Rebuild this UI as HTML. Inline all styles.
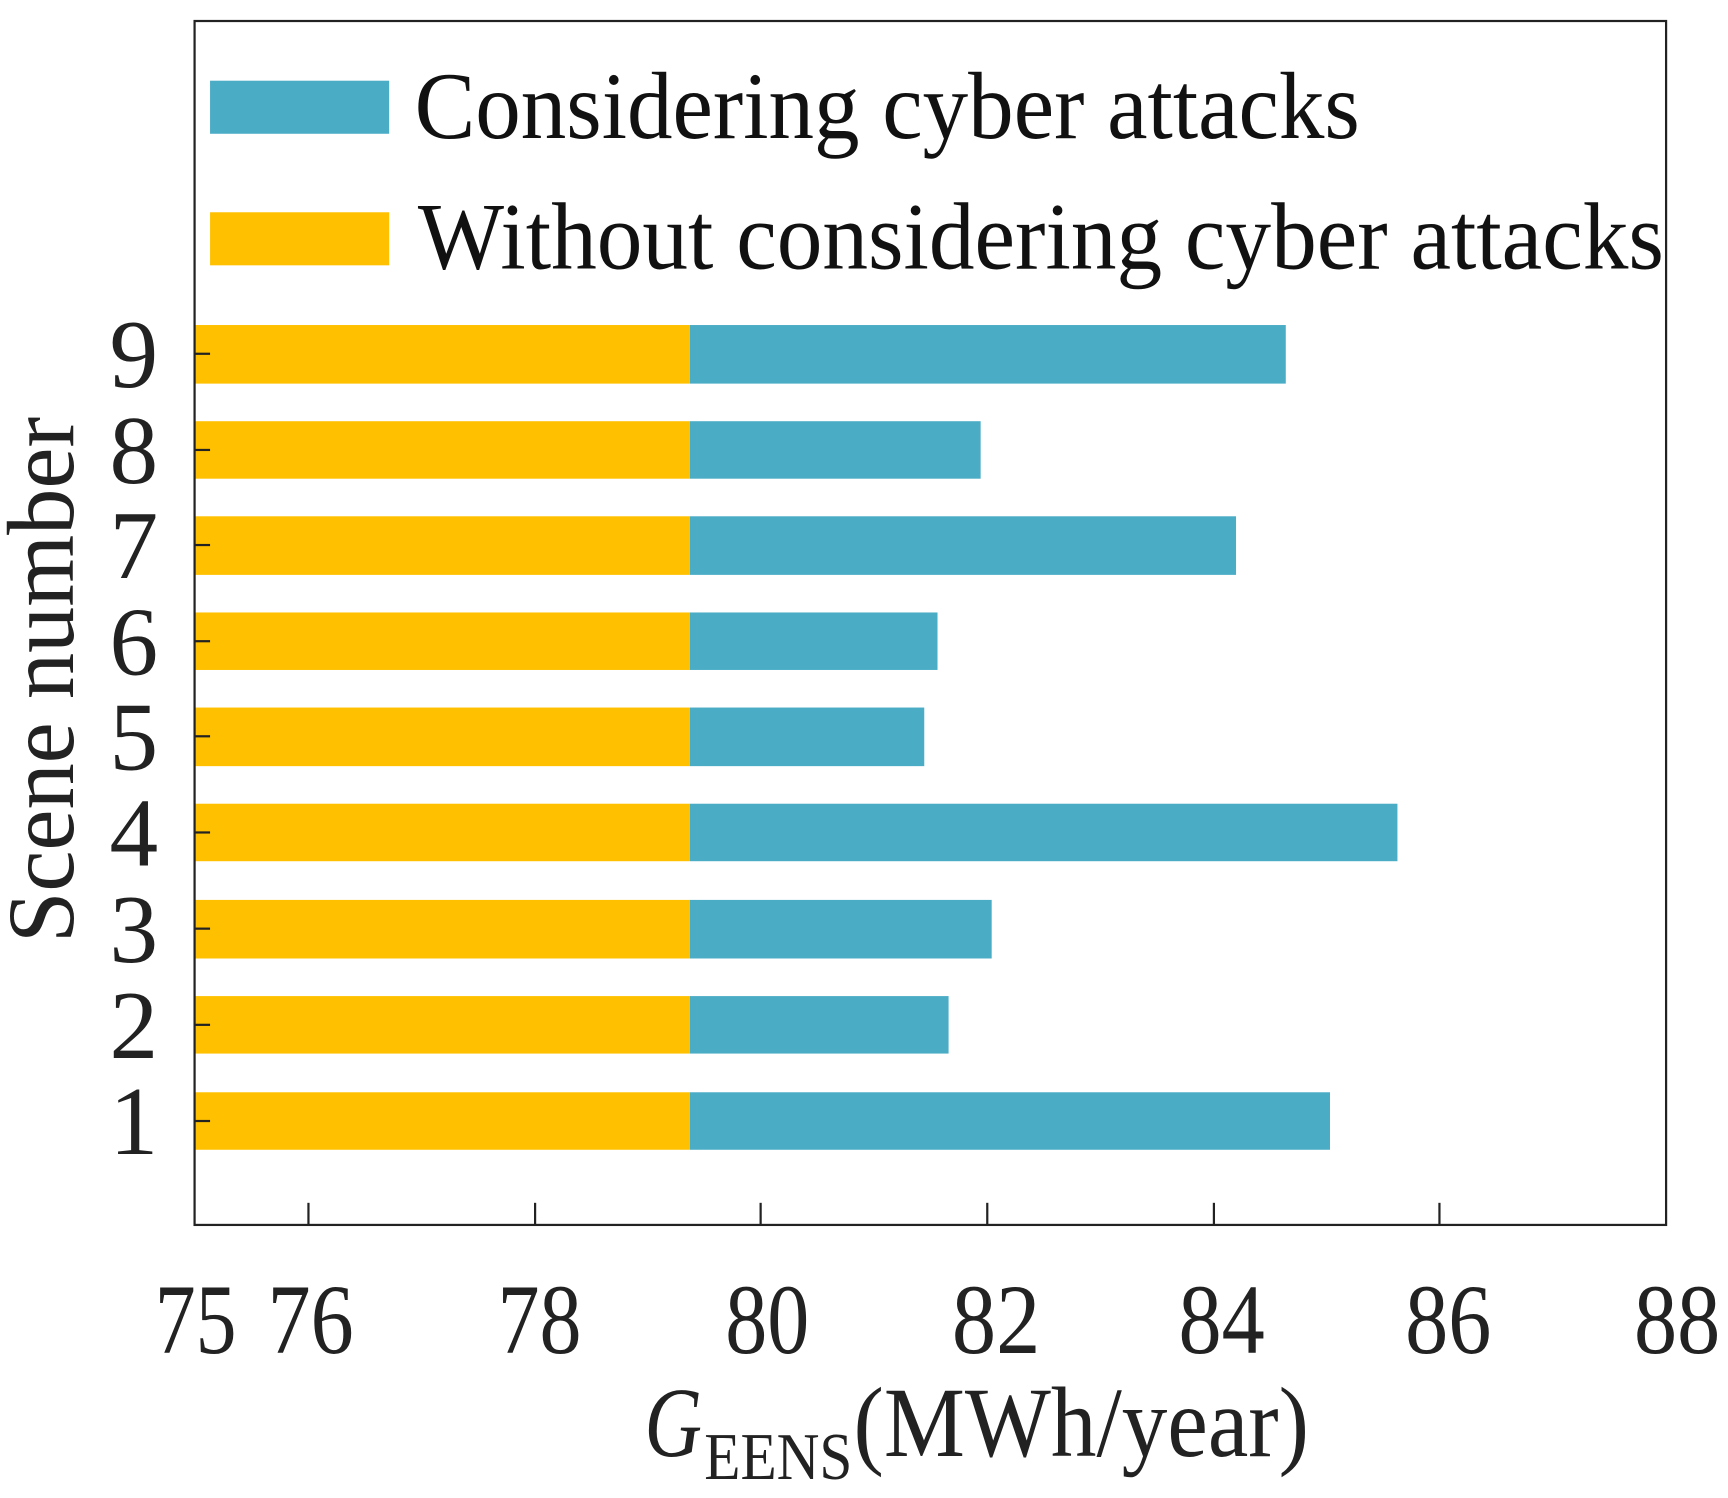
<!DOCTYPE html>
<html><head><style>html,body{margin:0;padding:0;background:#fff}svg{display:block}</style></head>
<body>
<svg width="1728" height="1498" viewBox="0 0 1563 1355" preserveAspectRatio="none" xmlns="http://www.w3.org/2000/svg" font-family="Liberation Serif, serif" fill="#222">
<rect x="0" y="0" width="1563" height="1355" fill="#fff"/>
<g>
<rect x="176" y="294" width="448" height="53" fill="#FFC000"/><rect x="624" y="294" width="539" height="53" fill="#4BACC6"/>
<rect x="176" y="381" width="448" height="52" fill="#FFC000"/><rect x="624" y="381" width="263" height="52" fill="#4BACC6"/>
<rect x="176" y="467" width="448" height="53" fill="#FFC000"/><rect x="624" y="467" width="494" height="53" fill="#4BACC6"/>
<rect x="176" y="554" width="448" height="52" fill="#FFC000"/><rect x="624" y="554" width="224" height="52" fill="#4BACC6"/>
<rect x="176" y="640" width="448" height="53" fill="#FFC000"/><rect x="624" y="640" width="212" height="53" fill="#4BACC6"/>
<rect x="176" y="727" width="448" height="52" fill="#FFC000"/><rect x="624" y="727" width="640" height="52" fill="#4BACC6"/>
<rect x="176" y="814" width="448" height="53" fill="#FFC000"/><rect x="624" y="814" width="273" height="53" fill="#4BACC6"/>
<rect x="176" y="901" width="448" height="52" fill="#FFC000"/><rect x="624" y="901" width="234" height="52" fill="#4BACC6"/>
<rect x="176" y="988" width="448" height="52" fill="#FFC000"/><rect x="624" y="988" width="579" height="52" fill="#4BACC6"/>
</g>
<rect x="176" y="19" width="1331" height="1089" fill="none" stroke="#222" stroke-width="2"/>
<g stroke="#222" stroke-width="2">
<line x1="176" y1="320" x2="190" y2="320"/><line x1="176" y1="407" x2="190" y2="407"/><line x1="176" y1="493" x2="190" y2="493"/>
<line x1="176" y1="580" x2="190" y2="580"/><line x1="176" y1="666" x2="190" y2="666"/><line x1="176" y1="753" x2="190" y2="753"/>
<line x1="176" y1="840" x2="190" y2="840"/><line x1="176" y1="927" x2="190" y2="927"/><line x1="176" y1="1014" x2="190" y2="1014"/>
<line x1="279" y1="1108" x2="279" y2="1088"/><line x1="484" y1="1108" x2="484" y2="1088"/><line x1="688" y1="1108" x2="688" y2="1088"/>
<line x1="893" y1="1108" x2="893" y2="1088"/><line x1="1098" y1="1108" x2="1098" y2="1088"/><line x1="1302" y1="1108" x2="1302" y2="1088"/>
</g>
<g font-size="88" text-anchor="middle">
<text x="121" y="350">9</text><text x="121" y="437">8</text><text x="121" y="523">7</text>
<text x="121" y="610">6</text><text x="121" y="696">5</text><text x="121" y="783">4</text>
<text x="121" y="870">3</text><text x="121" y="957">2</text><text x="121" y="1044">1</text>
</g>
<g font-size="90">
<text x="140" y="1224" textLength="74" lengthAdjust="spacingAndGlyphs">75</text>
<text x="242" y="1224" textLength="78" lengthAdjust="spacingAndGlyphs">76</text>
<text x="450" y="1224" textLength="76" lengthAdjust="spacingAndGlyphs">78</text>
<text x="656" y="1224" textLength="76" lengthAdjust="spacingAndGlyphs">80</text>
<text x="861" y="1224" textLength="80" lengthAdjust="spacingAndGlyphs">82</text>
<text x="1066" y="1224" textLength="78" lengthAdjust="spacingAndGlyphs">84</text>
<text x="1271" y="1224" textLength="78" lengthAdjust="spacingAndGlyphs">86</text>
<text x="1478" y="1224" textLength="78" lengthAdjust="spacingAndGlyphs">88</text>
</g>
<text x="583" y="1317" font-size="90" font-style="italic" textLength="52" lengthAdjust="spacingAndGlyphs">G</text>
<text x="637" y="1338" font-size="60" textLength="134" lengthAdjust="spacingAndGlyphs">EENS</text>
<text x="772" y="1317" font-size="90" textLength="412" lengthAdjust="spacingAndGlyphs">(MWh/year)</text>
<text transform="translate(66,615) rotate(-90)" font-size="86" text-anchor="middle" textLength="476" lengthAdjust="spacingAndGlyphs">Scene number</text>
<rect x="190" y="73" width="162" height="48" fill="#4BACC6"/>
<rect x="190" y="192" width="162" height="48" fill="#FFC000"/>
<text x="375" y="125" font-size="86" fill="#111" textLength="855" lengthAdjust="spacingAndGlyphs">Considering cyber attacks</text>
<text x="378" y="243" font-size="86" fill="#111" textLength="1127" lengthAdjust="spacingAndGlyphs">Without considering cyber attacks</text>
</svg>
</body></html>
